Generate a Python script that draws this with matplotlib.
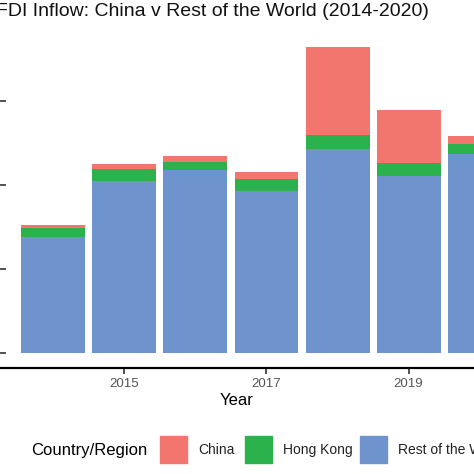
import matplotlib
matplotlib.use("Agg")
import matplotlib.pyplot as plt
from matplotlib.patches import Rectangle

plt.rcParams["font.family"] = ["Liberation Sans", "DejaVu Sans"]

years = [2014, 2015, 2016, 2017, 2018, 2019, 2020]
rest = [1.38, 2.05, 2.18, 1.93, 2.43, 2.11, 2.37]
hong_kong = [0.11, 0.14, 0.10, 0.14, 0.17, 0.15, 0.12]
china = [0.04, 0.06, 0.07, 0.09, 1.04, 0.63, 0.09]
series_names = ["China", "Hong Kong", "Rest of the World"]
colors = {"China": "#F2766E", "Hong Kong": "#2BB24C", "Rest of the World": "#6F94CD"}

fig = plt.figure(figsize=(4.74, 4.74), dpi=100)
ax = fig.add_axes([0, 0.2236, 1.0, 0.7134])
b1 = [r + h for r, h in zip(rest, hong_kong)]
ax.bar(years, rest, width=0.9, color=colors["Rest of the World"])
ax.bar(years, hong_kong, bottom=rest, width=0.9, color=colors["Hong Kong"])
ax.bar(years, china, bottom=b1, width=0.9, color=colors["China"])
ax.set_xlim(2013.25, 2019.92)
ax.set_ylim(-0.18, 3.85)
for s in ["top", "right", "left"]:
    ax.spines[s].set_visible(False)
ax.spines["bottom"].set_linewidth(1.6)
ax.set_yticks([0, 1, 2, 3])
ax.set_yticklabels([])
ax.set_xticks([2015, 2017, 2019])
ax.tick_params(axis="x", colors="#333333", labelcolor="#555555", labelsize=9.5, length=4, width=1.2)
ax.tick_params(axis="y", length=4, width=1.2, direction="in", colors="#333333")
ax.set_xlabel("Year", fontsize=12, labelpad=2)

fig.text(-0.008, 0.975, "FDI Inflow: China v Rest of the World (2014-2020)", fontsize=14,
         ha="left", va="center", color="#111111")

ly = 1 - 450 / 474
fig.text(31 / 474, ly, "Country/Region", fontsize=12, va="center", ha="left")
for x0, name in zip([160, 245, 360], series_names):
    fig.patches.append(Rectangle((x0 / 474, ly - 13 / 474), 27 / 474, 27 / 474,
                                 transform=fig.transFigure, color=colors[name]))
    fig.text((x0 + 38) / 474, ly, name, fontsize=10, va="center", ha="left", color="#222222")

fig.savefig("out.png", dpi=100)
